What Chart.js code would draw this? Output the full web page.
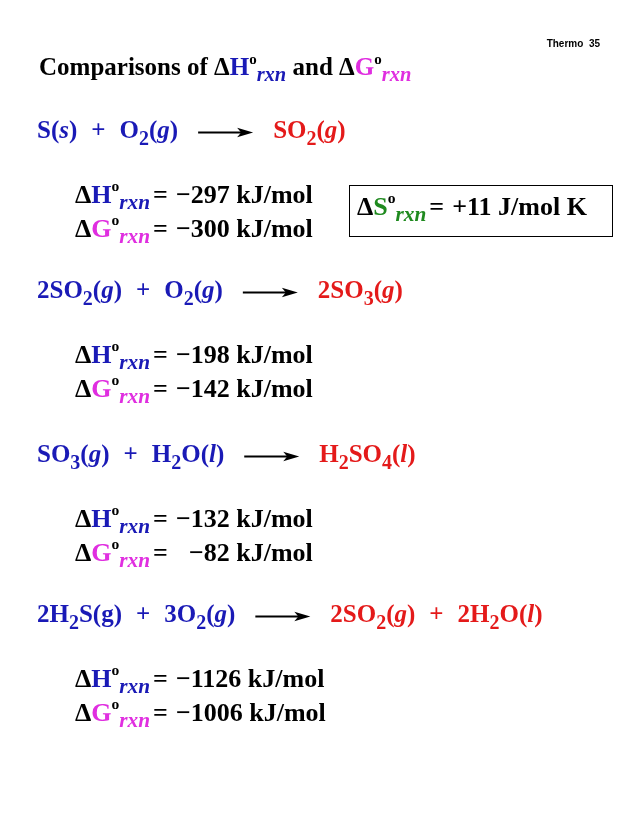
<!DOCTYPE html>
<html>
<head>
<meta charset="utf-8">
<script src="https://cdn.jsdelivr.net/npm/chart.js@4.4.0/dist/chart.umd.min.js"></script>
<style>
    html, body { margin: 0; padding: 0; background: #fff; }
    #wrap { width: 638px; height: 826px; }
</style>
</head>
<body>
<div id="wrap"><canvas id="slide" width="638" height="826"></canvas></div>
<script>
// reactions: *x* = italic, digit after a letter or ')' = subscript
var reactants = ['S(*s*) + O2(*g*)', '2SO2(*g*) + O2(*g*)', 'SO3(*g*) + H2O(*l*)', '2H2S(g) + 3O2(*g*)'];
var products = ['SO2(*g*)', '2SO3(*g*)', 'H2SO4(*l*)', '2SO2(*g*) + 2H2O(*l*)'];
var enthalpy = [-297, -198, -132, -1126];   // kJ/mol
var gibbs = [-300, -142, -82, -1006];       // kJ/mol
var entropy = [11];                          // J/mol K, only the first reaction
var pageLabel = 'Thermo  35';
var titleText = 'Comparisons of ';

var BLUE = '#1a1ab6', RED = '#e41a1a', PINK = '#e02ee0', GREEN = '#1f8a1f', BLACK = '#000';
var SIZE = 25;       // title + reactions
var VSIZE = 26;      // delta lines
var FONT = '"Liberation Serif", "Times New Roman", serif';

// layout (baselines)
var rowY = [138, 298, 462, 622];
var hOffset = 65, gOffset = 99;

function run(t, color, opts) {
    opts = opts || {};
    return { t: t, color: color, italic: !!opts.italic, scale: opts.scale || 1, dy: opts.dy || 0, gap: opts.gap };
}

function parseFormula(str, color) {
    var out = [];
    var italic = false;
    for (var i = 0; i < str.length; i++) {
        var ch = str[i];
        if (ch === '*') { italic = !italic; continue; }
        if (ch === '+') {
            out.push(run('', color, { gap: 14 }));
            out.push(run('+', color));
            out.push(run('', color, { gap: 14 }));
            continue;
        }
        if (ch === ' ') continue;
        var prev = i > 0 ? str[i - 1] : ' ';
        if (/[0-9]/.test(ch) && /[A-Za-z)]/.test(prev)) {
            out.push(run(ch, color, { scale: 0.8, dy: 0.26 }));
        } else {
            out.push(run(ch, color, { italic: italic }));
        }
    }
    return out;
}

function deltaLabel(letter, color) {
    return [
        run('\u0394', BLACK),
        run(letter, color),
        run('o', BLACK, { scale: 0.6, dy: -0.45 }),
        run('rxn', color, { italic: true, scale: 0.82, dy: 0.23 })
    ];
}

function setFont(ctx, r, size) {
    ctx.font = (r.italic ? 'italic ' : '') + 'bold ' + (size * r.scale) + 'px ' + FONT;
}

function drawRuns(ctx, runs, x, y, size) {
    runs.forEach(function (r) {
        if (r.gap) { x += r.gap; return; }
        setFont(ctx, r, size);
        ctx.fillStyle = r.color;
        ctx.fillText(r.t, x, y + r.dy * size);
        x += ctx.measureText(r.t).width;
    });
    return x;
}

function drawArrow(ctx, x1, x2, y) {
    ctx.save();
    ctx.strokeStyle = BLACK;
    ctx.fillStyle = BLACK;
    ctx.lineWidth = 1.8;
    ctx.beginPath();
    ctx.moveTo(x1, y);
    ctx.lineTo(x2 - 10, y);
    ctx.stroke();
    ctx.beginPath();
    ctx.moveTo(x2, y);
    ctx.lineTo(x2 - 16, y - 4.8);
    ctx.lineTo(x2 - 12, y);
    ctx.lineTo(x2 - 16, y + 4.8);
    ctx.closePath();
    ctx.fill();
    ctx.restore();
}

function valueText(v, unit) {
    return (v < 0 ? '\u2212' : '+') + Math.abs(v) + ' ' + unit;
}

// one "ΔX°rxn =  value unit" line
function drawDeltaLine(ctx, letter, color, v, unit, x, y, padDigits) {
    var lx = drawRuns(ctx, deltaLabel(letter, color), x, y, VSIZE);
    lx = drawRuns(ctx, [run('=', BLACK)], lx + 3, y, VSIZE);
    lx += 8;
    if (padDigits && Math.abs(v) < 100) {
        ctx.font = 'bold ' + VSIZE + 'px ' + FONT;
        lx += ctx.measureText('0').width;
    }
    drawRuns(ctx, [run(valueText(v, unit), BLACK)], lx, y, VSIZE);
}

var slidePlugin = {
    id: 'slideText',
    afterDraw: function (chart) {
        var ctx = chart.ctx;
        ctx.save();
        ctx.textBaseline = 'alphabetic';

        // page label
        ctx.font = 'bold 10px "Liberation Sans", Arial, sans-serif';
        ctx.fillStyle = BLACK;
        ctx.textAlign = 'right';
        ctx.fillText(pageLabel, 600, 47);
        ctx.textAlign = 'left';

        // title
        var tx = drawRuns(ctx, [run(titleText, BLACK)], 39, 75, SIZE);
        tx = drawRuns(ctx, deltaLabel('H', BLUE), tx, 75, SIZE);
        tx = drawRuns(ctx, [run(' and ', BLACK)], tx, 75, SIZE);
        drawRuns(ctx, deltaLabel('G', PINK), tx, 75, SIZE);

        reactants.forEach(function (r, i) {
            var y = rowY[i];
            var xEnd = drawRuns(ctx, parseFormula(r, BLUE), 37, y, SIZE);
            var a1 = xEnd + 20, a2 = a1 + 55;
            drawArrow(ctx, a1, a2, y - 5.5);
            drawRuns(ctx, parseFormula(products[i], RED), a2 + 20, y, SIZE);

            drawDeltaLine(ctx, 'H', BLUE, enthalpy[i], 'kJ/mol', 75, y + hOffset, true);
            drawDeltaLine(ctx, 'G', PINK, gibbs[i], 'kJ/mol', 75, y + gOffset, true);
        });

        // entropy box for the first reaction
        ctx.strokeStyle = BLACK;
        ctx.lineWidth = 1;
        ctx.strokeRect(349.5, 185.5, 263, 51);
        drawDeltaLine(ctx, 'S', GREEN, entropy[0], 'J/mol K', 357, 215, false);

        ctx.restore();
    }
};

new Chart(document.getElementById('slide'), {
    type: 'scatter',
    data: { datasets: [] },
    options: {
        responsive: false,
        animation: false,
        events: [],
        layout: { padding: 0 },
        scales: { x: { display: false }, y: { display: false } },
        plugins: { legend: { display: false }, tooltip: { enabled: false } }
    },
    plugins: [slidePlugin]
});
</script>
</body>
</html>
